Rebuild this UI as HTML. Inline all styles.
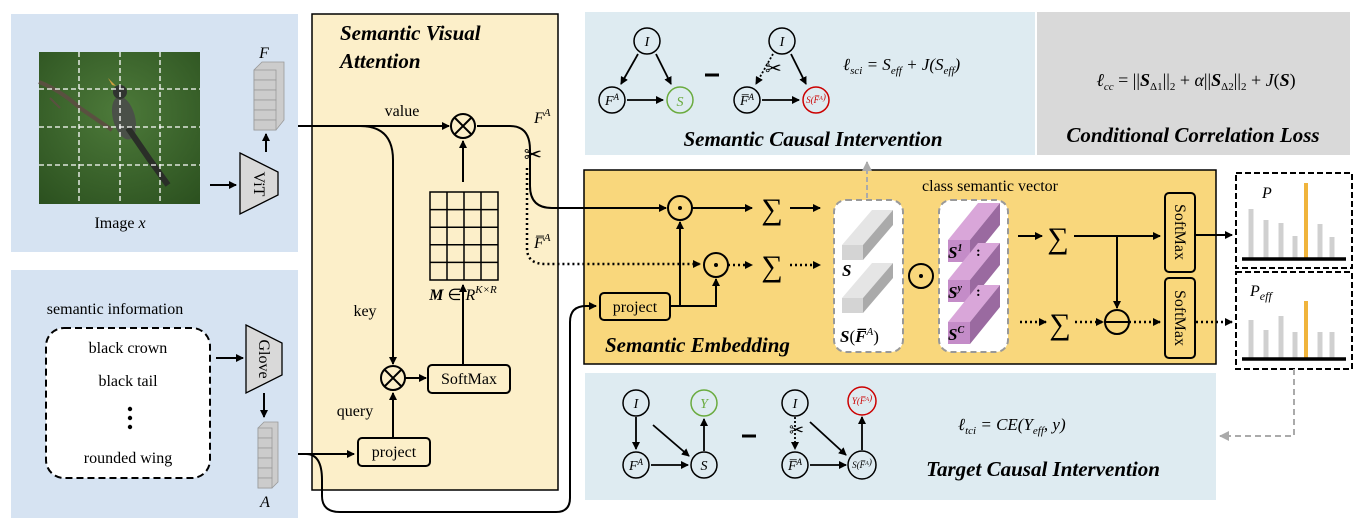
<!DOCTYPE html>
<html><head><meta charset="utf-8"><style>
html,body{margin:0;padding:0;background:#fff;}
svg{display:block;font-family:"Liberation Serif",serif;}
.t{font-size:16px;}
.ti{font-size:21px;font-weight:bold;font-style:italic;}
.m{font-style:italic;}
</style></head><body>
<svg width="1362" height="528" viewBox="0 0 1362 528" xmlns="http://www.w3.org/2000/svg">
<defs>
<marker id="a" markerWidth="8" markerHeight="8" refX="7" refY="4" orient="auto" markerUnits="userSpaceOnUse"><path d="M0,0 L8,4 L0,8z" fill="#000"/></marker>
<marker id="g" markerWidth="10" markerHeight="10" refX="9" refY="5" orient="auto" markerUnits="userSpaceOnUse"><path d="M0,0 L10,5 L0,10z" fill="#aaa"/></marker>
<radialGradient id="bg" cx="0.5" cy="0.4" r="0.8"><stop offset="0" stop-color="#4d7a3a"/><stop offset="1" stop-color="#2a4f1e"/></radialGradient>
</defs>
<!-- backgrounds -->
<rect x="11" y="14" width="287" height="238" fill="#d6e3f2"/>
<rect x="11" y="270" width="287" height="248" fill="#d6e3f2"/>
<rect x="312" y="14" width="246" height="476" fill="#fcefc9" stroke="#000" stroke-width="1.5"/>
<rect x="585" y="12" width="450" height="143" fill="#deebf1"/>
<rect x="1037" y="12" width="313" height="143" fill="#d9d9d9"/>
<rect x="584" y="170" width="632" height="194" fill="#f9d77c" stroke="#000" stroke-width="1.5"/>
<rect x="585" y="373" width="631" height="127" fill="#deebf1"/>

<!-- image -->
<rect x="39" y="52" width="161" height="152" fill="url(#bg)"/>
<path d="M39,82 Q60,90 80,108 L112,130" stroke="#5a5040" stroke-width="4" fill="none"/>
<path d="M50,98 L60,108" stroke="#5a5040" stroke-width="2"/>
<ellipse cx="124" cy="118" rx="11" ry="22" fill="#4a5048" transform="rotate(-15 124 118)"/>
<path d="M128,128 L150,160 L168,185" stroke="#2a2e28" stroke-width="6" fill="none"/>
<circle cx="120" cy="92" r="7" fill="#303430"/>
<path d="M112,85 L108,78 L116,86z" fill="#d0a040"/>
<g stroke="#fff" stroke-width="1.3" stroke-dasharray="5,3">
<line x1="79" y1="52" x2="79" y2="204"/><line x1="120" y1="52" x2="120" y2="204"/><line x1="160" y1="52" x2="160" y2="204"/>
<line x1="39" y1="89" x2="200" y2="89"/><line x1="39" y1="127" x2="200" y2="127"/><line x1="39" y1="165" x2="200" y2="165"/>
</g>
<text x="120" y="228" class="t" text-anchor="middle">Image <tspan class="m">x</tspan></text>
<line x1="210" y1="185" x2="236" y2="185" stroke="#000" stroke-width="2" marker-end="url(#a)"/>
<path d="M240,153 L278,172 L278,195 L240,214z" fill="#d9d9d9" stroke="#000" stroke-width="1.3"/>
<text x="259" y="184" class="t" text-anchor="middle" transform="rotate(90 259 184)" dy="5">ViT</text>
<line x1="266" y1="152" x2="266" y2="134" stroke="#000" stroke-width="2" marker-end="url(#a)"/>
<g fill="#ccc" stroke="#999" stroke-width="0.8">
<path d="M254,70 L262,62 L284,62 L284,120 L276,130 L254,130z"/>
<rect x="254" y="70" width="22" height="10"/><rect x="254" y="80" width="22" height="10"/><rect x="254" y="90" width="22" height="10"/><rect x="254" y="100" width="22" height="10"/><rect x="254" y="110" width="22" height="10"/><rect x="254" y="120" width="22" height="10"/>
</g>
<text x="264" y="58" class="t m" text-anchor="middle">F</text>

<!-- semantic info -->
<text x="115" y="314" class="t" text-anchor="middle">semantic information</text>
<rect x="46" y="328" width="164" height="150" rx="18" fill="#fff" stroke="#000" stroke-width="2" stroke-dasharray="7,4"/>
<text x="128" y="353" class="t" text-anchor="middle" font-size="17">black crown</text>
<text x="128" y="386" class="t" text-anchor="middle" font-size="17">black tail</text>
<circle cx="130" cy="409" r="2.2"/><circle cx="130" cy="418" r="2.2"/><circle cx="130" cy="427" r="2.2"/>
<text x="128" y="463" class="t" text-anchor="middle" font-size="17">rounded wing</text>
<line x1="216" y1="358" x2="243" y2="358" stroke="#000" stroke-width="2" marker-end="url(#a)"/>
<path d="M246,325 L282,343 L282,375 L246,393z" fill="#d9d9d9" stroke="#000" stroke-width="1.3"/>
<text x="264" y="359" class="t" text-anchor="middle" transform="rotate(90 264 359)" dy="5">Glove</text>
<line x1="264" y1="393" x2="264" y2="417" stroke="#000" stroke-width="2" marker-end="url(#a)"/>
<g fill="#ccc" stroke="#999" stroke-width="0.8">
<path d="M258,428 L264,422 L278,422 L278,482 L272,488 L258,488z"/>
<rect x="258" y="428" width="14" height="10"/><rect x="258" y="438" width="14" height="10"/><rect x="258" y="448" width="14" height="10"/><rect x="258" y="458" width="14" height="10"/><rect x="258" y="468" width="14" height="10"/><rect x="258" y="478" width="14" height="10"/>
</g>
<text x="265" y="507" class="t m" text-anchor="middle">A</text>

<!-- SVA -->
<text x="340" y="40" class="ti">Semantic Visual</text>
<text x="340" y="68" class="ti">Attention</text>
<text x="402" y="116" class="t" text-anchor="middle">value</text>
<g stroke="#000" stroke-width="2" fill="none">
<line x1="298" y1="126" x2="449" y2="126" marker-end="url(#a)"/>
<path d="M360,126 Q393,126 393,160 L393,364" marker-end="url(#a)"/>
<circle cx="463" cy="126" r="12"/><path d="M455,118 L471,134 M471,118 L455,134"/>
<circle cx="393" cy="378" r="12"/><path d="M385,370 L401,386 M401,370 L385,386"/>
<line x1="405" y1="378" x2="426" y2="378" marker-end="url(#a)"/>
<line x1="463" y1="364" x2="463" y2="285" marker-end="url(#a)"/>
<line x1="463" y1="182" x2="463" y2="141" marker-end="url(#a)"/>
<line x1="393" y1="437" x2="393" y2="393" marker-end="url(#a)"/>
<line x1="298" y1="454" x2="354" y2="454" marker-end="url(#a)"/>
<path d="M306,454 Q322,454 322,480 L322,496 Q322,512 340,512 L556,512 Q570,512 570,498 L570,322 Q570,306 586,306 L596,306" marker-end="url(#a)"/>
<path d="M477,126 L510,126 Q530,126 530,150 L530,186 Q530,208 552,208 L666,208" marker-end="url(#a)"/>
</g>
<g stroke="#000" stroke-width="1.5" fill="none">
<rect x="430" y="192" width="68" height="88"/>
<line x1="447" y1="192" x2="447" y2="280"/><line x1="464" y1="192" x2="464" y2="280"/><line x1="481" y1="192" x2="481" y2="280"/>
<line x1="430" y1="209.6" x2="498" y2="209.6"/><line x1="430" y1="227.2" x2="498" y2="227.2"/><line x1="430" y1="244.8" x2="498" y2="244.8"/><line x1="430" y1="262.4" x2="498" y2="262.4"/>
</g>
<text x="463" y="300" class="t" text-anchor="middle"><tspan font-weight="bold" font-style="italic">M</tspan> ∈ <tspan class="m">R</tspan><tspan font-size="11" dy="-7" class="m">K×R</tspan></text>
<rect x="428" y="365" width="82" height="28" rx="4" fill="#fcefc9" stroke="#000" stroke-width="2"/>
<text x="469" y="384" class="t" text-anchor="middle">SoftMax</text>
<text x="365" y="316" class="t" text-anchor="middle">key</text>
<text x="355" y="416" class="t" text-anchor="middle">query</text>
<rect x="358" y="438" width="72" height="28" rx="4" fill="#fcefc9" stroke="#000" stroke-width="2"/>
<text x="394" y="457" class="t" text-anchor="middle">project</text>
<text x="534" y="123" class="t m">F<tspan font-size="11" dy="-7">A</tspan></text>
<text x="533" y="162" font-size="22" text-anchor="middle">✂</text>
<path d="M527,168 L527,248 Q527,264 545,264 L700,264" stroke="#000" stroke-width="2.5" stroke-dasharray="2,3" fill="none" marker-end="url(#a)"/>
<text x="534" y="248" class="t m">F̅<tspan font-size="11" dy="-7">A</tspan></text>

<!-- Semantic Embedding -->
<g stroke="#000" stroke-width="2" fill="none">
<circle cx="680" cy="208" r="12"/><circle cx="716" cy="265" r="12"/>
<line x1="692" y1="208" x2="752" y2="208" marker-end="url(#a)"/>
<line x1="790" y1="208" x2="820" y2="208" marker-end="url(#a)"/>
<rect x="600" y="293" width="70" height="27" rx="4" fill="#f9d77c"/>
<path d="M670,306 L680,306 L680,222" marker-end="url(#a)"/>
<path d="M680,306 L716,306 L716,279" marker-end="url(#a)"/>
<line x1="1074" y1="236" x2="1160" y2="236" marker-end="url(#a)"/>
<line x1="1117" y1="236" x2="1117" y2="308" marker-end="url(#a)"/>
<line x1="1018" y1="236" x2="1042" y2="236" marker-end="url(#a)"/>
<circle cx="1117" cy="322" r="12"/><line x1="1105" y1="322" x2="1129" y2="322"/>
<circle cx="921" cy="276" r="12"/>
<line x1="1196" y1="235" x2="1232" y2="235" marker-end="url(#a)"/>
</g>
<circle cx="680" cy="208" r="2" /><circle cx="716" cy="265" r="2"/><circle cx="921" cy="276" r="2"/>
<g stroke="#000" stroke-width="2.5" stroke-dasharray="2,3" fill="none">
<line x1="728" y1="265" x2="752" y2="265" marker-end="url(#a)"/>
<line x1="790" y1="265" x2="820" y2="265" marker-end="url(#a)"/>
<line x1="1020" y1="322" x2="1046" y2="322" marker-end="url(#a)"/>
<line x1="1075" y1="322" x2="1103" y2="322" marker-end="url(#a)"/>
<line x1="1129" y1="322" x2="1160" y2="322" marker-end="url(#a)"/>
<line x1="1196" y1="322" x2="1232" y2="322" marker-end="url(#a)"/>
</g>
<g font-size="30" text-anchor="middle"><text x="772" y="219">∑</text><text x="772" y="276">∑</text><text x="1058" y="248">∑</text><text x="1060" y="334">∑</text></g>
<text x="635" y="312" class="t" text-anchor="middle">project</text>
<text x="605" y="352" class="ti">Semantic Embedding</text>
<text x="990" y="191" class="t" text-anchor="middle">class semantic vector</text>
<line x1="867" y1="198" x2="867" y2="162" stroke="#aaa" stroke-width="2" stroke-dasharray="5,3" marker-end="url(#g)"/>
<rect x="834" y="200" width="69" height="152" rx="12" fill="#fff" stroke="#999" stroke-width="2" stroke-dasharray="6,4"/>
<rect x="939" y="200" width="69" height="152" rx="12" fill="#fff" stroke="#999" stroke-width="2" stroke-dasharray="6,4"/>
<g>
<path d="M842,245 L872,210 L893,210 L863,245z" fill="#e5e5e5"/><path d="M863,245 L893,210 L893,225 L863,260z" fill="#aaa"/><rect x="842" y="245" width="21" height="15" fill="#d4d4d4"/>
<path d="M842,298 L872,263 L893,263 L863,298z" fill="#e5e5e5"/><path d="M863,298 L893,263 L893,278 L863,313z" fill="#aaa"/><rect x="842" y="298" width="21" height="15" fill="#d4d4d4"/>
</g>
<text x="842" y="276" font-size="17" font-weight="bold" font-style="italic">S</text>
<text x="840" y="342" font-size="17"><tspan font-weight="bold" font-style="italic">S</tspan>(<tspan font-weight="bold" font-style="italic">F̅</tspan><tspan font-size="11" dy="-7" class="m">A</tspan><tspan dy="7">)</tspan></text>
<g>
<path d="M948,240 L978,203 L1000,203 L970,240z" fill="#d9a6d9"/><path d="M970,240 L1000,203 L1000,225 L970,262z" fill="#9a6aa0"/><rect x="948" y="240" width="22" height="22" fill="#c48cc8"/>
<path d="M948,280 L978,243 L1000,243 L970,280z" fill="#d9a6d9"/><path d="M970,280 L1000,243 L1000,265 L970,302z" fill="#9a6aa0"/><rect x="948" y="280" width="22" height="22" fill="#c48cc8"/>
<path d="M948,322 L978,285 L1000,285 L970,322z" fill="#d9a6d9"/><path d="M970,322 L1000,285 L1000,307 L970,344z" fill="#9a6aa0"/><rect x="948" y="322" width="22" height="22" fill="#c48cc8"/>
</g>
<g font-size="17" font-weight="bold" font-style="italic"><text x="948" y="258">S<tspan font-size="10" dy="-7">1</tspan></text><text x="948" y="298">S<tspan font-size="10" dy="-7">y</tspan></text><text x="948" y="340">S<tspan font-size="10" dy="-7">C</tspan></text></g>
<text x="976" y="256" font-size="14" font-weight="bold">:</text><text x="976" y="296" font-size="14" font-weight="bold">:</text>
<rect x="1165" y="193" width="30" height="79" rx="4" fill="#f9d77c" stroke="#000" stroke-width="2"/>
<rect x="1165" y="278" width="30" height="80" rx="4" fill="#f9d77c" stroke="#000" stroke-width="2"/>
<text x="1180" y="232" class="t" text-anchor="middle" transform="rotate(90 1180 232)" dy="5">SoftMax</text>
<text x="1180" y="318" class="t" text-anchor="middle" transform="rotate(90 1180 318)" dy="5">SoftMax</text>

<!-- output charts -->
<rect x="1236" y="173" width="116" height="95" fill="#fff" stroke="#000" stroke-width="2" stroke-dasharray="6,3"/>
<rect x="1236" y="272" width="116" height="97" fill="#fff" stroke="#000" stroke-width="2" stroke-dasharray="6,3"/>
<g stroke="#d0d0d0" stroke-width="5">
<line x1="1251" y1="259" x2="1251" y2="209"/><line x1="1266" y1="259" x2="1266" y2="220"/><line x1="1281" y1="259" x2="1281" y2="223"/><line x1="1295" y1="259" x2="1295" y2="236"/><line x1="1320" y1="259" x2="1320" y2="224"/><line x1="1332" y1="259" x2="1332" y2="237"/>
<line x1="1251" y1="359" x2="1251" y2="320"/><line x1="1266" y1="359" x2="1266" y2="330"/><line x1="1281" y1="359" x2="1281" y2="316"/><line x1="1295" y1="359" x2="1295" y2="332"/><line x1="1320" y1="359" x2="1320" y2="332"/><line x1="1332" y1="359" x2="1332" y2="332"/>
</g>
<line x1="1306" y1="259" x2="1306" y2="183" stroke="#f0b43c" stroke-width="4"/>
<line x1="1306" y1="359" x2="1306" y2="301" stroke="#f0b43c" stroke-width="4"/>
<line x1="1242" y1="259" x2="1346" y2="259" stroke="#000" stroke-width="3.5"/>
<line x1="1242" y1="359" x2="1346" y2="359" stroke="#000" stroke-width="3.5"/>
<text x="1262" y="198" class="t m" font-size="18">P</text>
<text x="1250" y="296" class="t m" font-size="18">P<tspan font-size="12" dy="4">eff</tspan></text>
<path d="M1294,369 L1294,436 L1220,436" stroke="#aaa" stroke-width="2" stroke-dasharray="6,4" fill="none" marker-end="url(#g)"/>

<!-- SCI -->
<g stroke="#000" stroke-width="1.5" fill="none">
<circle cx="647" cy="41" r="13"/><circle cx="612" cy="100" r="13"/><circle cx="680" cy="100" r="13" stroke="#6aab3f"/>
<circle cx="782" cy="41" r="13"/><circle cx="747" cy="100" r="13"/><circle cx="816" cy="100" r="13" stroke="#c00"/>
</g>
<g stroke="#000" stroke-width="1.8" fill="none">
<line x1="638" y1="54" x2="621" y2="84" marker-end="url(#a)"/><line x1="656" y1="54" x2="671" y2="84" marker-end="url(#a)"/><line x1="627" y1="100" x2="663" y2="100" marker-end="url(#a)"/>
<line x1="791" y1="54" x2="806" y2="84" marker-end="url(#a)"/><line x1="762" y1="100" x2="799" y2="100" marker-end="url(#a)"/>
<line x1="773" y1="54" x2="756" y2="84" stroke-dasharray="2,2" marker-end="url(#a)"/>
<line x1="705" y1="75" x2="719" y2="75" stroke-width="3"/>
</g>
<text x="765" y="75" font-size="20">✂</text>
<g font-size="14" class="m" text-anchor="middle">
<text x="647" y="46" font-style="italic">I</text><text x="612" y="105" font-style="italic">F<tspan font-size="9" dy="-5">A</tspan></text><text x="680" y="106" fill="#6aab3f" font-style="italic">S</text>
<text x="782" y="46" font-style="italic">I</text><text x="747" y="105" font-style="italic">F̅<tspan font-size="9" dy="-5">A</tspan></text><text x="816" y="103" fill="#c00" font-size="9" font-style="italic">S(F̅<tspan font-size="6" dy="-3">A</tspan>)</text>
</g>
<text x="843" y="70" font-size="17" class="m">ℓ<tspan font-size="11" dy="4">sci</tspan><tspan dy="-4"> = S</tspan><tspan font-size="11" dy="4">eff</tspan><tspan dy="-4"> + J(S</tspan><tspan font-size="11" dy="4">eff</tspan><tspan dy="-4">)</tspan></text>
<text x="813" y="146" class="ti" text-anchor="middle">Semantic Causal Intervention</text>
<!-- CCL -->
<text x="1196" y="86" font-size="18" text-anchor="middle"><tspan class="m">ℓ</tspan><tspan font-size="11" dy="4" class="m">cc</tspan><tspan dy="-4"> = ||</tspan><tspan font-weight="bold" font-style="italic">S</tspan><tspan font-size="11" dy="4">Δ1</tspan><tspan dy="-4">||</tspan><tspan font-size="11" dy="4">2</tspan><tspan dy="-4"> + </tspan><tspan class="m">α</tspan>||<tspan font-weight="bold" font-style="italic">S</tspan><tspan font-size="11" dy="4">Δ2</tspan><tspan dy="-4">||</tspan><tspan font-size="11" dy="4">2</tspan><tspan dy="-4"> + </tspan><tspan class="m">J</tspan>(<tspan font-weight="bold" font-style="italic">S</tspan>)</text>
<text x="1193" y="142" class="ti" text-anchor="middle">Conditional Correlation Loss</text>

<!-- TCI -->
<g stroke="#000" stroke-width="1.5" fill="none">
<circle cx="636" cy="403" r="13"/><circle cx="704" cy="403" r="13" stroke="#6aab3f"/><circle cx="636" cy="465" r="13"/><circle cx="704" cy="465" r="13"/>
<circle cx="795" cy="403" r="13"/><circle cx="862" cy="401" r="14" stroke="#c00"/><circle cx="795" cy="465" r="13"/><circle cx="862" cy="465" r="14"/>
</g>
<g stroke="#000" stroke-width="1.8" fill="none">
<line x1="636" y1="417" x2="636" y2="449" marker-end="url(#a)"/><line x1="653" y1="425" x2="689" y2="456" marker-end="url(#a)"/><line x1="651" y1="465" x2="688" y2="465" marker-end="url(#a)"/><line x1="704" y1="451" x2="704" y2="419" marker-end="url(#a)"/>
<line x1="795" y1="417" x2="795" y2="449" stroke-dasharray="2,2" marker-end="url(#a)"/><line x1="810" y1="422" x2="846" y2="455" marker-end="url(#a)"/><line x1="810" y1="465" x2="846" y2="465" marker-end="url(#a)"/><line x1="862" y1="450" x2="862" y2="417" marker-end="url(#a)"/>
<line x1="742" y1="436" x2="756" y2="436" stroke-width="3"/>
</g>
<text x="789" y="436" font-size="18">✂</text>
<g font-size="14" text-anchor="middle" font-style="italic">
<text x="636" y="408">I</text><text x="704" y="408" fill="#6aab3f">Y</text><text x="636" y="470">F<tspan font-size="9" dy="-5">A</tspan></text><text x="704" y="470">S</text>
<text x="795" y="408">I</text><text x="862" y="404" fill="#c00" font-size="9">Y(F̅<tspan font-size="6" dy="-3">A</tspan>)</text><text x="795" y="470">F̅<tspan font-size="9" dy="-5">A</tspan></text><text x="862" y="468" font-size="9">S(F̅<tspan font-size="6" dy="-3">A</tspan>)</text>
</g>
<text x="958" y="430" font-size="17" class="m">ℓ<tspan font-size="11" dy="4">tci</tspan><tspan dy="-4"> = CE(Y</tspan><tspan font-size="11" dy="4">eff</tspan><tspan dy="-4">, y)</tspan></text>
<text x="1043" y="476" class="ti" text-anchor="middle">Target Causal Intervention</text>
</svg>
</body></html>
